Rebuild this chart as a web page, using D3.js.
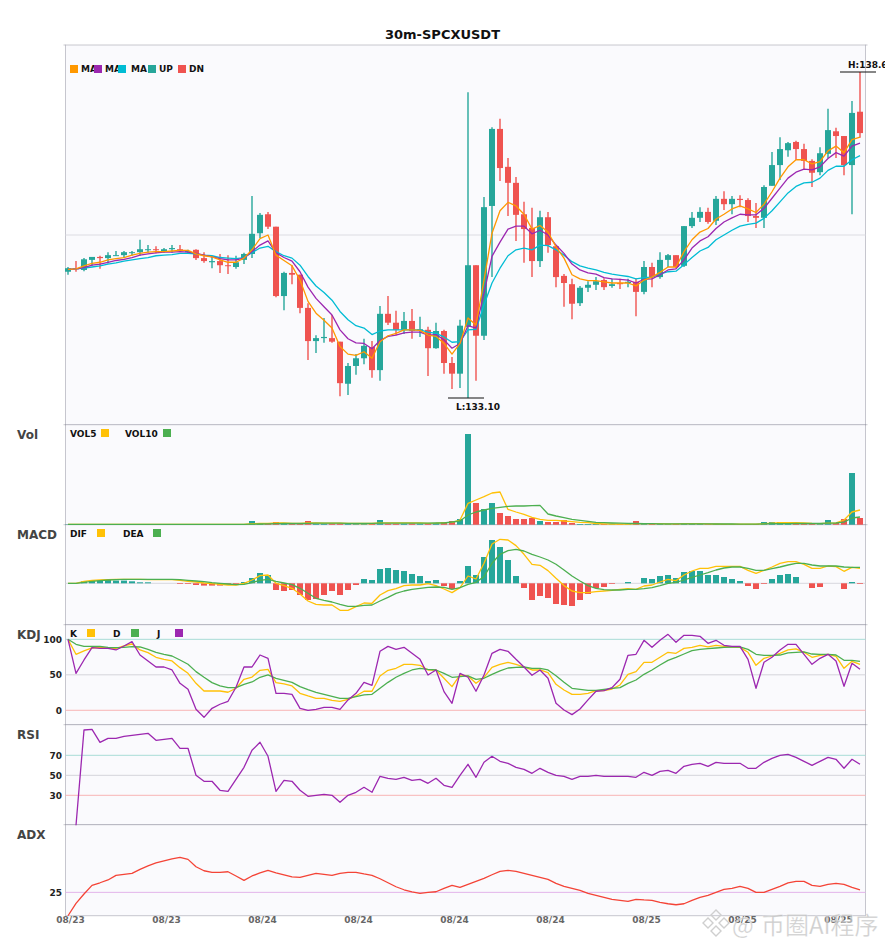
<!doctype html>
<html lang="en-US">

<head>
    <meta charset="UTF-8">
    <title>30m-SPCXUSDT</title>
    <script src="https://d3js.org/d3.v7.min.js" charset="utf-8"></script>
    <style>
        html, body { margin: 0; padding: 0; background: #fff; overflow: hidden; }
        svg { display: block; font-family: "DejaVu Sans", sans-serif; }
        .axis path, .axis line { display: none; }
    </style>
</head>

<body>
    <svg id="chart" width="885" height="950"></svg>
    <script>

        // ---- data ---- //

        const opens = [
            135.23,135.29,135.26,135.43,135.48,135.46,135.50,135.51,135.55,135.56,
            135.60,135.61,135.58,135.61,135.61,135.56,135.60,135.46,135.39,135.41,
            135.34,135.31,135.43,135.53,135.88,136.20,135.99,134.82,135.21,135.18,
            134.62,134.06,134.11,134.11,134.05,133.34,133.64,133.77,133.96,133.57,
            134.52,134.37,134.25,134.40,134.25,134.25,133.94,134.23,133.69,133.51,
            134.30,135.34,134.15,136.34,137.64,137.00,136.73,136.20,135.97,135.41,
            136.15,135.66,135.16,135.02,134.70,134.96,135.01,135.09,134.99,135.04,
            135.04,135.06,134.89,135.31,135.14,135.43,135.51,135.33,136.00,136.14,
            136.24,136.09,136.46,136.37,136.46,136.44,136.17,136.14,136.68,137.03,
            137.28,137.42,137.30,137.10,136.91,137.22,137.60,137.52,137.03,137.93
        ];
        const closes = [
            135.29,135.27,135.44,135.48,135.46,135.51,135.51,135.56,135.56,135.61,
            135.61,135.60,135.61,135.63,135.58,135.58,135.46,135.41,135.41,135.34,
            135.33,135.39,135.53,135.87,136.19,135.99,134.82,135.21,135.18,134.62,
            134.06,134.11,134.13,134.05,133.35,133.64,133.77,133.98,133.57,134.52,
            134.37,134.25,134.40,134.23,134.26,133.94,134.23,133.69,133.51,134.32,
            135.34,134.15,136.32,137.64,136.98,136.73,136.19,135.95,135.41,136.15,
            135.68,135.14,135.04,134.69,134.96,135.01,135.07,134.97,135.02,135.02,
            135.06,134.89,135.31,135.14,135.43,135.51,135.31,136.00,136.14,136.24,
            136.07,136.46,136.37,136.46,136.44,136.17,136.14,136.66,137.03,137.30,
            137.40,137.30,137.10,136.90,137.23,137.62,137.52,137.03,137.91,137.57
        ];
        const highs = [
            135.31,135.41,135.46,135.48,135.50,135.56,135.58,135.58,135.58,135.77,
            135.68,135.66,135.63,135.68,135.68,135.60,135.61,135.56,135.48,135.53,
            135.51,135.50,135.55,136.51,136.22,136.24,135.99,135.23,135.34,135.18,
            134.70,134.16,134.45,134.50,134.05,133.69,133.84,134.10,134.06,134.65,
            134.82,134.57,134.55,134.60,134.47,134.30,134.37,134.25,133.79,134.42,
            138.26,135.34,136.49,137.67,137.81,137.15,136.83,136.41,136.31,136.26,
            136.24,135.66,135.19,135.11,134.99,135.07,135.14,135.12,135.11,135.11,
            135.11,135.12,135.41,135.38,135.56,135.53,135.51,136.00,136.24,136.32,
            136.31,136.51,136.59,136.51,136.52,136.47,136.39,136.69,137.25,137.50,
            137.42,137.44,137.39,137.13,137.33,137.98,137.66,137.52,138.11,138.60
        ];
        const lows = [
            135.18,135.23,135.24,135.33,135.28,135.37,135.50,135.46,135.50,135.50,
            135.55,135.54,135.55,135.55,135.57,135.54,135.43,135.38,135.29,135.21,
            135.19,135.28,135.36,135.46,135.80,135.95,134.80,134.58,135.02,134.53,
            133.74,133.86,134.03,134.03,133.13,133.15,133.49,133.67,133.44,133.39,
            134.33,134.16,134.18,134.10,134.13,133.47,133.93,133.51,133.25,133.27,
            133.10,133.39,134.08,135.14,136.76,136.17,135.75,135.38,135.14,135.31,
            135.55,134.97,134.64,134.43,134.65,134.89,134.92,134.92,134.96,134.94,
            134.97,134.48,134.85,134.97,135.11,135.31,135.29,135.31,135.97,136.07,
            136.04,136.02,136.27,136.20,136.32,136.07,135.97,135.97,136.68,136.78,
            137.17,137.12,136.96,136.66,136.86,137.15,137.15,136.86,136.20,137.49
        ];
        const ma_fast = [
            135.27,135.28,135.33,135.37,135.39,135.43,135.45,135.47,135.51,135.54,
            135.56,135.57,135.57,135.58,135.59,135.59,135.53,135.50,135.48,135.43,
            135.39,135.39,135.46,135.60,135.79,135.85,135.51,135.42,135.33,135.09,
            134.73,134.53,134.41,134.28,133.97,133.84,133.82,133.88,133.77,134.05,
            134.15,134.19,134.25,134.25,134.24,134.16,134.14,134.02,133.84,134.02,
            134.45,134.33,135.09,135.88,136.26,136.40,136.34,136.20,135.95,136.01,
            135.90,135.65,135.46,135.18,135.11,135.08,135.08,135.06,135.04,135.04,
            135.04,134.99,135.09,135.14,135.22,135.31,135.31,135.57,135.77,135.90,
            135.96,136.12,136.20,136.29,136.34,136.29,136.23,136.37,136.58,136.81,
            137.00,137.12,137.12,137.05,137.09,137.27,137.35,137.24,137.46,137.50
        ];
        const ma_mid = [
            135.27,135.28,135.30,135.34,135.36,135.39,135.42,135.44,135.47,135.51,
            135.53,135.55,135.56,135.56,135.57,135.56,135.54,135.51,135.48,135.45,
            135.43,135.43,135.46,135.57,135.68,135.75,135.55,135.47,135.41,135.23,
            134.97,134.78,134.64,134.50,134.25,134.10,134.03,134.02,133.93,134.07,
            134.14,134.16,134.20,134.21,134.21,134.16,134.17,134.08,133.94,134.02,
            134.32,134.28,134.87,135.49,135.73,135.95,136.00,136.00,135.87,135.93,
            135.85,135.68,135.54,135.36,135.26,135.21,135.19,135.13,135.11,135.10,
            135.09,135.04,135.10,135.11,135.18,135.26,135.28,135.43,135.63,135.75,
            135.82,135.96,136.07,136.14,136.20,136.19,136.19,136.30,136.47,136.64,
            136.81,136.91,136.96,136.95,137.00,137.14,137.24,137.18,137.35,137.40
        ];
        const ma_slow = [
            135.27,135.28,135.29,135.31,135.33,135.36,135.38,135.41,135.43,135.45,
            135.47,135.50,135.51,135.52,135.54,135.54,135.53,135.51,135.50,135.47,
            135.46,135.45,135.47,135.55,135.63,135.66,135.57,135.50,135.46,135.34,
            135.15,134.99,134.88,134.75,134.56,134.42,134.32,134.28,134.17,134.23,
            134.25,134.25,134.25,134.25,134.25,134.21,134.19,134.13,134.04,134.05,
            134.25,134.26,134.67,135.04,135.29,135.50,135.60,135.63,135.60,135.68,
            135.67,135.60,135.51,135.40,135.33,135.29,135.26,135.22,135.19,135.17,
            135.15,135.11,135.13,135.14,135.19,135.23,135.24,135.35,135.47,135.58,
            135.64,135.77,135.85,135.93,136.00,136.03,136.05,136.13,136.26,136.41,
            136.56,136.67,136.73,136.74,136.81,136.94,137.01,137.01,137.12,137.19
        ];

        const volumes = [
            .3,.3,.3,.3,.3,.3,.3,.3,.3,.3,
            .3,.3,.3,.3,.3,.3,.3,.3,.3,.3,
            .3,.3,.5,3.7,1,1,2.7,1,1,1,
            3.7,1,1,1.2,1.5,1,1,1,1,4.7,
            1,1,1,1.2,1,1.5,1.7,2.7,3.7,5.7,
            90.7,21.7,15.7,21.7,11.7,8.7,5.7,5.7,6.7,3.7,
            2.7,2.7,4.7,1.7,.7,.7,.7,.7,.5,.5,
            .5,3.7,.7,.7,.7,.7,.7,1.7,.7,.7,
            .5,.5,.5,.5,.5,.5,.7,2.7,2.7,2.7,
            1,1.2,1,1,1.2,4.7,1.7,5.7,51.7,6.7
        ];
        const vol5 = [
            .3,.3,.3,.3,.3,.3,.3,.3,.3,.3,
            .3,.3,.3,.3,.3,.3,.3,.3,.3,.3,
            .3,.3,.4,1,1.2,1.4,1.9,1.9,1.4,1.4,
            1.9,1.7,1.6,1.6,1.6,1.3,1.2,1.2,1.2,1.9,
            1.8,1.8,1.8,1.8,1.9,1.3,1.5,2,2.3,4.7,
            21.3,24.7,28,31.7,32.7,15.3,12.7,10.3,7.3,5.3,
            4.3,4.3,3.7,3,2.3,2,1.2,.8,.7,.6,
            .6,1.1,1.1,1.1,1.1,.9,.9,1,1,1,
            .8,.7,.6,.5,.5,.5,.5,1,1.5,2,
            2,2,1.7,1.3,1.1,1.6,1.8,4.7,12.7,14.7
        ];
        const vol10 = [
            .3,.3,.3,.3,.3,.3,.3,.3,.3,.3,
            .3,.3,.3,.3,.3,.3,.3,.3,.3,.3,
            .3,.3,.3,.6,.7,.8,1.1,1.2,1.2,1.2,
            1.4,1.5,1.5,1.5,1.5,1.4,1.4,1.4,1.4,1.5,
            1.5,1.5,1.5,1.5,1.6,1.6,1.7,1.7,2.7,3.7,
            9.7,12.7,14.7,16.3,17.3,18.3,18.7,18.7,19,19.3,
            10.7,8.7,7,5.3,4.3,3.3,2.3,2,1.7,1.5,
            1.3,1.2,1,1,.9,.9,.9,.8,.8,.8,
            .8,.7,.7,.7,.6,.6,.6,.8,1,1.1,
            1.1,1.2,1.2,1.2,1.3,1.6,1.7,2.5,6.7,7.7
        ];

        const dif = [
            0,0,.02,.03,.033,.037,.04,.04,.04,.04,
            .037,.037,.037,.037,.03,.02,.013,.003,-.003,-.01,
            -.017,-.017,0,.033,.077,.083,0,-.023,-.05,-.107,
            -.177,-.21,-.217,-.217,-.27,-.27,-.233,-.197,-.2,-.117,
            -.073,-.053,-.023,-.017,-.017,-.003,-.023,-.057,-.093,-.043,
            .073,.043,.2,.393,.44,.433,.377,.29,.19,.18,
            .127,.05,-.023,-.077,-.093,-.093,-.083,-.077,-.07,-.06,
            -.053,-.06,-.027,-.017,.013,.04,.027,.083,.123,.15,
            .15,.17,.17,.17,.17,.13,.1,.13,.163,.2,
            .217,.217,.19,.15,.15,.173,.167,.12,.16,.15
        ];
        const dea = [
            0,0,.01,.02,.027,.033,.037,.04,.04,.04,
            .04,.04,.04,.04,.037,.03,.023,.017,.007,0,
            -.007,-.013,-.01,.007,.03,.04,.02,.003,-.013,-.05,
            -.1,-.15,-.17,-.187,-.21,-.23,-.23,-.22,-.217,-.177,
            -.14,-.1,-.077,-.06,-.05,-.04,-.037,-.04,-.06,-.043,
            -.01,.01,.067,.2,.29,.327,.34,.323,.29,.263,
            .233,.19,.133,.073,.023,-.023,-.05,-.063,-.067,-.067,
            -.06,-.06,-.053,-.043,-.023,0,.01,.033,.06,.083,
            .107,.133,.153,.163,.163,.15,.13,.13,.147,.163,
            .183,.2,.2,.183,.173,.173,.173,.163,.16,.16
        ];
        const macd_hist = [
            0,0,.02,.027,.027,.033,.027,.027,.02,.01,
            .01,0,0,0,-.007,-.007,-.017,-.023,-.023,-.023,
            -.01,-.01,.013,.053,.103,.083,-.067,-.077,-.067,-.117,
            -.167,-.157,-.117,-.077,-.117,-.067,-.017,.043,.033,.143,
            .153,.133,.123,.093,.073,.023,.033,-.027,-.057,.023,
            .173,.083,.263,.433,.363,.233,.073,-.047,-.167,-.127,
            -.147,-.207,-.217,-.227,-.167,-.107,-.047,-.037,-.007,0,
            .013,0,.053,.043,.073,.083,.053,.113,.123,.123,
            .083,.083,.063,.043,.023,-.027,-.057,-.007,.043,.083,
            .093,.063,0,-.047,-.037,0,0,-.057,.013,-.007
        ];

        const kdj_k = [
            100,78.9,83.6,87.8,88.7,87.8,87.3,90.6,93.4,85.0,
            81.2,74.7,71.8,69.5,60.1,52.1,38.0,27.2,27.2,27.2,
            25.4,31.0,43.7,46.9,56.3,57.7,39.0,37.1,34.3,23.9,
            20.2,16.9,16.9,14.1,12.7,15.5,20.2,26.8,26.8,48.4,
            56.3,59.2,64.8,64.8,63.4,56.8,56.8,45.1,33.3,49.8,
            48.4,38.0,46.5,60.6,64.8,67.6,64.8,61.0,56.8,56.8,
            53.1,36.6,28.6,22.5,22.5,23.9,27.7,27.7,30.0,35.7,
            50.7,54.5,67.6,67.6,74.7,81.7,80.3,87.3,88.7,91.6,
            89.2,91.6,90.1,89.2,88.7,81.7,63.4,73.2,76.5,80.3,
            85.0,86.4,81.7,74.7,77.5,78.9,76.1,59.2,69.0,64.8
        ];
        const kdj_d = [
            100,93.0,90.1,90.1,90.1,88.7,88.3,88.7,89.7,89.2,
            85.9,81.7,78.9,76.5,70.9,64.8,54.5,46.5,39.0,34.3,
            31.9,31.9,36.6,39.9,46.5,49.8,45.1,42.3,39.4,33.3,
            29.1,25.4,22.5,19.7,16.9,16.9,19.2,21.6,22.5,31.0,
            39.4,46.5,52.1,56.8,59.2,57.7,56.8,52.1,46.5,47.4,
            48.4,43.7,45.1,50.7,55.4,59.6,60.6,61.0,59.2,59.2,
            56.8,48.8,39.4,31.0,29.6,28.2,28.2,29.6,31.0,31.9,
            38.0,42.7,50.7,56.8,63.9,70.4,74.7,79.3,84.0,85.9,
            86.9,87.8,88.7,89.2,89.2,85.9,78.9,77.5,77.5,77.9,
            80.8,81.7,82.2,79.3,78.9,78.9,77.9,70.4,70.4,69.0
        ];
        const kdj_j = [
            100,52.1,70.9,88.3,87.3,87.3,85.0,90.6,96.7,77.9,
            69.5,61.0,61.0,56.8,38.0,29.6,1.4,-9.9,2.8,8.5,
            12.7,32.4,61.0,61.0,77.9,73.2,23.9,23.9,22.5,2.8,
            0,1.4,4.2,4.2,1.4,14.6,23.9,39.4,35.2,83.1,
            90.1,85.9,88.7,80.3,71.8,49.8,56.8,26.3,9.9,52.1,
            46.5,26.8,49.8,80.3,85.9,83.1,71.8,61.0,49.3,56.8,
            45.1,9.9,0.5,-6.1,1.9,14.6,26.8,27.7,31.9,43.7,
            77.5,78.9,98.6,88.7,98.6,107.0,95.8,105.6,105.6,104.2,
            94.4,98.6,91.6,90.1,90.1,71.8,31.0,67.6,74.7,85.0,
            93.0,93.0,78.9,64.8,73.2,78.9,69.5,33.8,66.2,57.7
        ];

        const rsi = [
            null,0,95.3,96,83,87,87,89,90,91,
            92,85,86,87,77,77,50,44,44,35,
            34,46,58,75,83,69,34,45,44,35,
            29,30,31,30,23,30,33,38,33,49,
            47,46,48,45,46,42,47,40,38,50,
            61,48,63,69,64,62,58,56,52,57,
            53,50,49,46,49,49,50,49,49,49,
            49,48,53,50,54,55,52,59,61,62,
            59,63,62,62,62,57,57,63,67,70,
            71,68,64,60,64,68,66,57,66,61
        ];
        const adx = [
            13.3,19.5,24.2,28.5,29.8,31.2,33.5,34.0,34.5,36.5,
            38.2,39.7,40.7,41.7,42.5,41.5,37.8,35.8,35.0,35.0,
            35.3,33.2,31.0,33.2,34.7,36.0,34.8,33.8,32.7,32.5,
            33.5,34.5,34.0,33.5,34.5,35.0,35.0,34.2,33.5,31.8,
            29.8,27.8,26.3,25.2,24.5,25.0,25.3,27.0,28.5,27.5,
            29.0,30.5,32.0,33.8,35.5,36.0,35.5,34.5,33.5,32.5,
            31.5,29.5,28.0,27.0,26.0,24.5,23.5,22.5,21.5,21.0,
            20.5,21.5,21.2,21.0,20.0,19.3,18.8,19.3,21.0,22.5,
            23.5,25.0,26.5,27.0,28.0,27.0,25.0,25.0,26.5,28.0,
            29.7,30.5,30.5,28.5,28.0,29.0,29.5,29.0,27.5,26.3
        ];

        const date_labels = ["08/23", "08/23", "08/24", "08/24", "08/24", "08/24", "08/25", "08/25", "08/25"];
        const date_ticks = [0, 12, 24, 36, 48, 60, 72, 84, 96];

        const PRICE_HIGH = 138.60;
        const PRICE_LOW = 133.10;

        // ---- constants ---- //

        const UP = "#26a69a";
        const DOWN = "#ef5350";
        const PANEL_LEFT = 65.5;
        const PANEL_RIGHT = 865.5;
        const BORDER = "rgba(110,110,130,0.38)";

        const svg = d3.select("#chart");
        const x_scale = d3.scaleLinear().domain([0, 99]).range([68, 860]);
        const price_line = (values, y_scale) => d3.line()
            .defined(d => d !== null)
            .x((d, i) => x_scale(i))
            .y(d => y_scale(d))(values);

        // each panel: top, bottom, value range
        const price_scale = d3.scaleLinear().domain([132.644, 139.056]).range([425, 45]);
        const vol_scale = d3.scaleLinear().domain([0, 100]).range([524.7, 424.7]);
        const macd_scale = d3.scaleLinear().domain([-.414, .586]).range([624.7, 524.7]);
        const kdj_scale = d3.scaleLinear().domain([-20.3, 120.6]).range([724.7, 624.7]);
        const rsi_scale = d3.scaleLinear().domain([.6, 100.6]).range([824.7, 724.7]);
        const adx_scale = d3.scaleLinear().domain([13.33, 58.83]).range([915.7, 824.7]);

        draw_panel(45, 425);
        draw_panel(424.7, 524.7);
        draw_panel(524.7, 624.7);
        draw_panel(624.7, 724.7);
        draw_panel(724.7, 824.7);
        draw_panel(824.7, 915.7);

        function draw_panel(top, bottom) {
            svg.append("rect")
                .attr("x", PANEL_LEFT).attr("y", top)
                .attr("width", PANEL_RIGHT - PANEL_LEFT).attr("height", bottom - top)
                .style("fill", "#fafafd").style("stroke", BORDER).style("stroke-width", 1);
            // little outside ticks on both edges
            [[PANEL_LEFT - 2, PANEL_LEFT], [PANEL_RIGHT, PANEL_RIGHT + 2]].forEach(p => {
                svg.append("line").attr("x1", p[0]).attr("x2", p[1]).attr("y1", top).attr("y2", top)
                    .style("stroke", BORDER).style("stroke-width", 1);
            });
        }

        function h_line(y_scale, value, color) {
            svg.append("line")
                .attr("x1", PANEL_LEFT).attr("x2", PANEL_RIGHT)
                .attr("y1", y_scale(value)).attr("y2", y_scale(value))
                .style("stroke", color).style("stroke-width", 1);
        }

        function y_label(y_scale, value) {
            svg.append("text").text(value)
                .attr("x", 62).attr("y", y_scale(value)).attr("dy", "0.36em")
                .attr("text-anchor", "end")
                .style("font-size", "9px").style("font-weight", "bold").style("fill", "#222");
        }

        function series(values, y_scale, color, width = 1.3) {
            svg.append("path")
                .attr("d", price_line(values, y_scale))
                .style("fill", "none").style("stroke", color)
                .style("stroke-width", width).style("stroke-linejoin", "round");
        }

        function legend_text(x, y, label) {
            svg.append("text").text(label).attr("x", x).attr("y", y).attr("dy", "0.36em")
                .style("font-size", "9px").style("font-weight", "bold").style("fill", "#111");
        }

        function legend_box(x, y, color) {
            svg.append("rect").attr("x", x).attr("y", y - 4).attr("width", 8).attr("height", 8)
                .style("fill", color);
        }

        function panel_title(y, label) {
            svg.append("text").text(label).attr("x", 17).attr("y", y).attr("dy", "0.36em")
                .style("font-size", "12px").style("font-weight", "bold").style("fill", "#444");
        }

        // ---- title ---- //

        svg.append("text").text("30m-SPCXUSDT")
            .attr("x", 442.5).attr("y", 39).attr("text-anchor", "middle")
            .style("font-size", "13px").style("font-weight", "bold").style("fill", "#111");

        // ---- main price panel ---- //

        h_line(price_scale, 135.85, "#dcdce2");

        const candles = d3.range(opens.length);
        svg.selectAll(".wick").data(candles).enter().append("line")
            .attr("class", "wick")
            .attr("x1", i => x_scale(i)).attr("x2", i => x_scale(i))
            .attr("y1", i => price_scale(highs[i])).attr("y2", i => price_scale(lows[i]))
            .style("stroke", i => closes[i] >= opens[i] ? UP : DOWN)
            .style("stroke-width", 1.4);
        svg.selectAll(".body").data(candles).enter().append("rect")
            .attr("class", "body")
            .attr("x", i => x_scale(i) - 3).attr("width", 6)
            .attr("y", i => price_scale(Math.max(opens[i], closes[i])))
            .attr("height", i => Math.max(1, Math.abs(price_scale(opens[i]) - price_scale(closes[i]))))
            .style("fill", i => closes[i] >= opens[i] ? UP : DOWN);

        series(ma_slow, price_scale, "#00bcd4");
        series(ma_mid, price_scale, "#9c27b0");
        series(ma_fast, price_scale, "#ff9800");

        // high / low markers
        const i_low = d3.minIndex(lows);
        const i_high = d3.maxIndex(highs);
        svg.append("line")
            .attr("x1", x_scale(i_low) - 20).attr("x2", x_scale(i_low) + 16)
            .attr("y1", price_scale(PRICE_LOW)).attr("y2", price_scale(PRICE_LOW))
            .style("stroke", "#111").style("stroke-width", 1.2);
        svg.append("text").text("L:" + PRICE_LOW.toFixed(2))
            .attr("x", x_scale(i_low) - 12).attr("y", price_scale(PRICE_LOW) + 9).attr("dy", "0.36em")
            .style("font-size", "9px").style("font-weight", "bold").style("fill", "#111");
        svg.append("line")
            .attr("x1", x_scale(i_high) - 20).attr("x2", x_scale(i_high) + 16)
            .attr("y1", price_scale(PRICE_HIGH)).attr("y2", price_scale(PRICE_HIGH))
            .style("stroke", "#111").style("stroke-width", 1.2);
        svg.append("text").text("H:" + PRICE_HIGH.toFixed(2))
            .attr("x", x_scale(i_high) - 12).attr("y", price_scale(PRICE_HIGH) - 7).attr("dy", "0.36em")
            .style("font-size", "9px").style("font-weight", "bold").style("fill", "#111");

        // legend: later boxes sit on top of the earlier labels
        [[70, "#ff9800", 81, "MA"], [94, "#9c27b0", 105, "MA"], [118, "#00bcd4", 131, "MA"],
         [148, UP, 159, "UP"], [178, DOWN, 189, "DN"]].forEach(d => {
            legend_box(d[0], 69, d[1]);
            legend_text(d[2], 69, d[3]);
        });

        // ---- volume ---- //

        panel_title(435, "Vol");
        svg.selectAll(".vol").data(candles).enter().append("rect")
            .attr("class", "vol")
            .attr("x", i => x_scale(i) - 3).attr("width", 6)
            .attr("y", i => vol_scale(volumes[i]))
            .attr("height", i => vol_scale(0) - vol_scale(volumes[i]))
            .style("fill", i => closes[i] >= opens[i] ? UP : DOWN);
        series(vol5, vol_scale, "#ffc107");
        series(vol10, vol_scale, "#4caf50");
        legend_text(70, 433.5, "VOL5");
        legend_box(101, 433, "#ffc107");
        legend_text(125, 433.5, "VOL10");
        legend_box(163, 433, "#4caf50");

        // ---- macd ---- //

        panel_title(535, "MACD");
        h_line(macd_scale, 0, "#d8d8de");
        svg.selectAll(".hist").data(macd_hist).enter().append("rect")
            .attr("class", "hist")
            .attr("x", (d, i) => x_scale(i) - 3).attr("width", 6)
            .attr("y", d => macd_scale(Math.max(d, 0)))
            .attr("height", d => Math.abs(macd_scale(d) - macd_scale(0)))
            .style("fill", d => d >= 0 ? UP : DOWN);
        series(dif, macd_scale, "#ffc107");
        series(dea, macd_scale, "#4caf50");
        legend_text(70, 533.5, "DIF");
        legend_box(97, 533, "#ffc107");
        legend_text(123, 533.5, "DEA");
        legend_box(153, 533, "#4caf50");

        // ---- kdj ---- //

        panel_title(635, "KDJ");
        h_line(kdj_scale, 100, "#a8dcd6");
        h_line(kdj_scale, 50, "#d4d4da");
        h_line(kdj_scale, 0, "#f8b4b4");
        [100, 50, 0].forEach(v => y_label(kdj_scale, v));
        series(kdj_k, kdj_scale, "#ffc107");
        series(kdj_d, kdj_scale, "#4caf50");
        series(kdj_j, kdj_scale, "#9c27b0");
        legend_text(70, 633.5, "K");
        legend_box(87, 633, "#ffc107");
        legend_text(113, 633.5, "D");
        legend_box(131, 633, "#4caf50");
        legend_text(157, 633.5, "J");
        legend_box(175, 633, "#9c27b0");

        // ---- rsi ---- //

        panel_title(735, "RSI");
        h_line(rsi_scale, 70, "#a8dcd6");
        h_line(rsi_scale, 50, "#d4d4da");
        h_line(rsi_scale, 30, "#f8b4b4");
        [70, 50, 30].forEach(v => y_label(rsi_scale, v));
        series(rsi, rsi_scale, "#9c27b0");

        // ---- adx ---- //

        panel_title(835, "ADX");
        h_line(adx_scale, 25, "#e3b4ea");
        y_label(adx_scale, 25);
        series(adx, adx_scale, "#f44336");

        // ---- date axis ---- //

        const date_axis = d3.axisBottom(x_scale)
            .tickValues(date_ticks)
            .tickFormat((d, i) => date_labels[i])
            .tickSize(0).tickPadding(0);
        const axis_g = svg.append("g").attr("class", "axis")
            .attr("transform", "translate(2,917)").call(date_axis);
        axis_g.selectAll("text")
            .style("font-family", "'DejaVu Sans', sans-serif")
            .style("font-size", "9px").style("font-weight", "bold").style("fill", "#666");

        // ---- watermark ---- //

        const mark = svg.append("g").style("fill", "none").style("stroke", "#cfcfcf").style("stroke-width", 1.4);
        [[716, 915], [708, 923], [724, 923], [716, 931]].forEach(p => {
            mark.append("path").attr("d", `M${p[0]},${p[1] - 5}L${p[0] + 5},${p[1]}L${p[0]},${p[1] + 5}L${p[0] - 5},${p[1]}Z`);
        });
        svg.append("text").text("@")
            .attr("x", 732).attr("y", 934)
            .style("font-family", "'Noto Sans CJK SC', sans-serif").style("font-size", "23px")
            .style("fill", "rgba(190,190,190,0.75)").style("stroke", "rgba(255,255,255,0.5)").style("stroke-width", .6);
        svg.append("text").text("币圈AI程序")
            .attr("x", 761).attr("y", 934)
            .style("font-family", "'Noto Sans CJK SC', sans-serif").style("font-size", "24px")
            .style("fill", "rgba(190,190,190,0.75)").style("stroke", "rgba(255,255,255,0.5)").style("stroke-width", .6);

    </script>
</body>

</html>
